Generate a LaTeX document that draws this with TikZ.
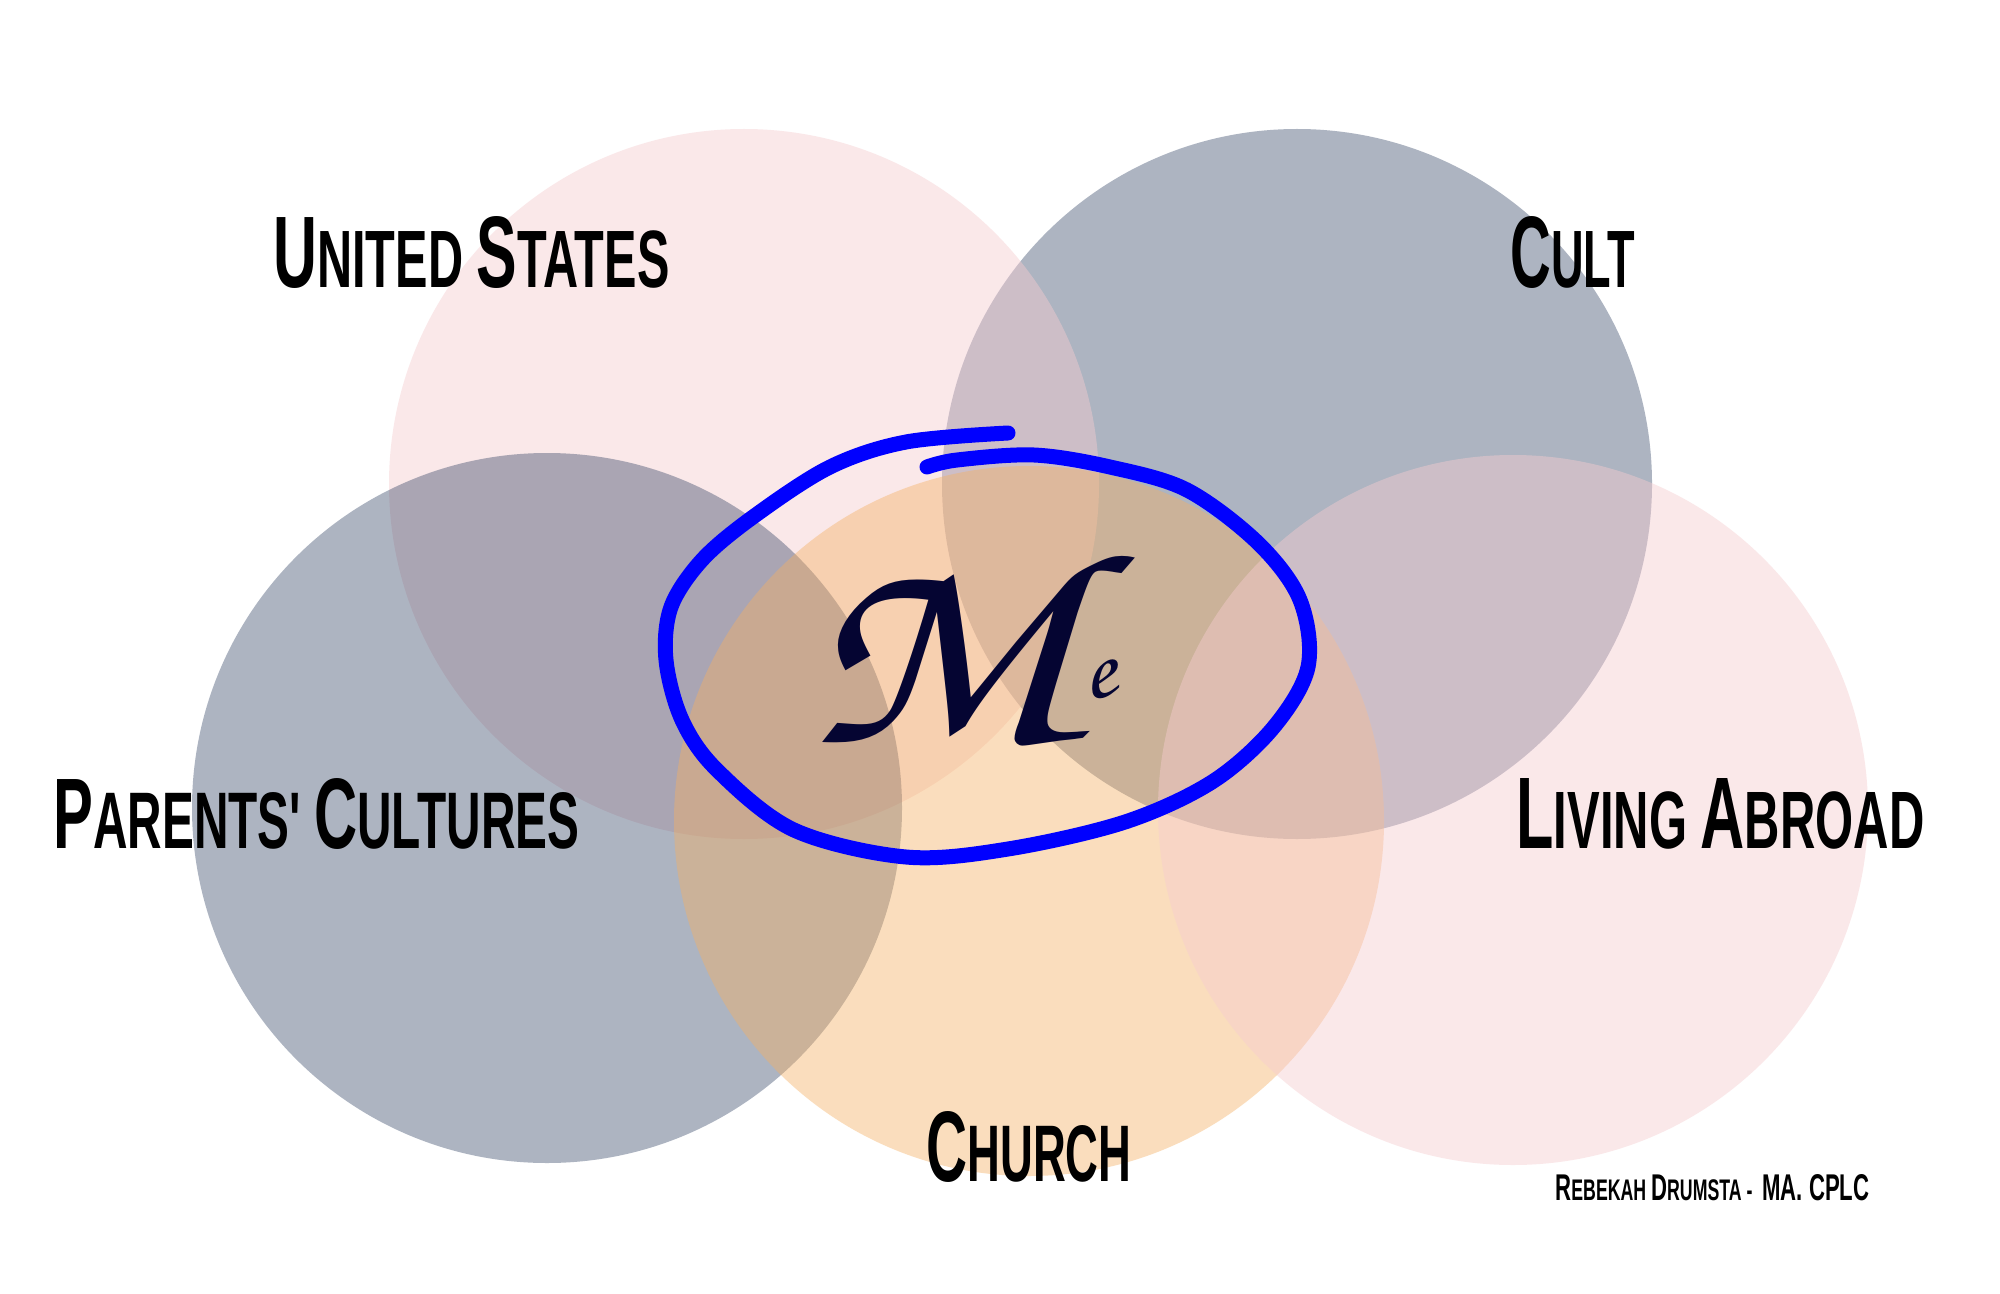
\documentclass[tikz,border=0pt]{standalone}
\usepackage{fontspec}
\setmainfont{Liberation Sans}
\newfontfamily\chorus{texgyrechorus-mediumitalic.otf}
\definecolor{pinkc}{RGB}{246,204,208}
\definecolor{bluec}{RGB}{17,37,76}
\definecolor{peachc}{RGB}{245,176,98}
\definecolor{loopc}{RGB}{0,0,255}
\definecolor{mec}{RGB}{5,5,50}
\newcommand\sclab[2]{{\fontsize{20}{20}\selectfont #1}{\fontsize{16}{16}\selectfont #2}}
\begin{document}
\begin{tikzpicture}[x=0.5pt,y=-0.5pt,
  venn/.style={circle, minimum size=355pt, inner sep=0pt, draw=none},
  pinkv/.style={venn, fill=pinkc, fill opacity=0.45},
  bluev/.style={venn, fill=bluec, fill opacity=0.34},
  peachv/.style={venn, fill=peachc, fill opacity=0.42},
  lbl/.style={inner sep=0pt, anchor=base west, text=black, font=\bfseries\fontsize{16}{16}\selectfont},
  loopline/.style={draw=loopc, line width=7.5pt, line cap=round, line join=round}]
\fill[white] (0,0) rectangle (2000,1294);
\useasboundingbox (0,0) rectangle (2000,1294);
% circles, in stacking order
\node[bluev]  (cult)    at (1297,484) {};
\node[pinkv]  (us)      at (744,484)  {};
\node[bluev]  (parents) at (547,808)  {};
\node[peachv] (church)  at (1029,821) {};
\node[pinkv]  (abroad)  at (1513,810) {};
% labels
\node[lbl] (tus) at (273,288) {\resizebox{198pt}{35.5pt}{\sclab{U}{NITED} \sclab{S}{TATES}}};
\node[lbl] (tcult) at (1510,288) {\resizebox{62.5pt}{35.5pt}{\sclab{C}{ULT}}};
\node[lbl] (tparents) at (53,848) {\resizebox{263pt}{35pt}{\sclab{P}{ARENTS\textquotesingle} \sclab{C}{ULTURES}}};
\node[lbl] (tabroad) at (1516,848) {\resizebox{204pt}{35pt}{\sclab{L}{IVING} \sclab{A}{BROAD}}};
\node[lbl] (tchurch) at (926,1181) {\resizebox{102.5pt}{35pt}{\sclab{C}{HURCH}}};
\node[lbl] (tcredit) at (1555,1200) {\resizebox{157pt}{13pt}{\sclab{R}{EBEKAH} \sclab{D}{RUMSTA} -\ \ {\fontsize{20}{20}\selectfont MA. CPLC}}};
% hand-drawn loop
\draw[loopline] plot[smooth, tension=0.55] coordinates {
 (1008,433) (906,442) (830,467) (753,517) (702,560) (671,607) (666,660)
 (682,720) (717,770) (794,830) (906,857) (1008,849) (1125,822) (1212,782)
 (1273,728) (1308,667) (1300,600) (1258,543) (1187,490) (1110,467)
 (1034,455) (957,460) (927,467)};
% Me
\node[inner sep=0pt, anchor=base west, text=mec] (tm) at (803,742) {\resizebox{138pt}{93pt}{\chorus M}};
\node[inner sep=0pt, anchor=base west, text=mec] (te) at (1084,697) {\chorus\fontsize{46}{46}\selectfont e};
\end{tikzpicture}
\end{document}
